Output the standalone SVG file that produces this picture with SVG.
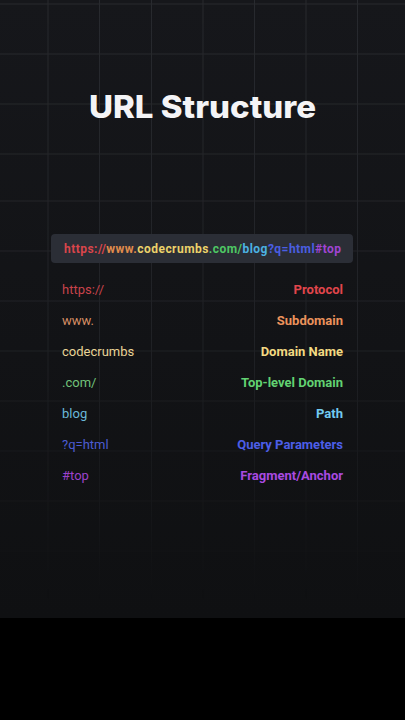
<svg xmlns="http://www.w3.org/2000/svg" width="405" height="720" viewBox="0 0 405 720">
  <defs>
    <linearGradient id="bgGrad" x1="0" y1="0" x2="0" y2="1">
      <stop offset="0" stop-color="#16171b"/>
      <stop offset="1" stop-color="#0f1012"/>
    </linearGradient>
    <linearGradient id="fade" x1="0" y1="0" x2="0" y2="1">
      <stop offset="0" stop-color="#fff" stop-opacity="1"/>
      <stop offset="0.55" stop-color="#fff" stop-opacity="0.65"/>
      <stop offset="1" stop-color="#fff" stop-opacity="0"/>
    </linearGradient>
    <mask id="gridMask" maskUnits="userSpaceOnUse" x="0" y="0" width="405" height="618">
      <rect x="0" y="0" width="405" height="600" fill="url(#fade)"/>
    </mask>
    <style>
      .grid { stroke: #282a2f; stroke-width: 1; }
      .title { font-family: Inter, "Open Sans", sans-serif; font-weight: 800; font-size: 31px; fill: #f4f4f6; }
      .url { font-family: Roboto, "Liberation Sans", sans-serif; font-weight: 700; font-size: 12px; }
      .seg { font-family: Roboto, "Liberation Sans", sans-serif; font-size: 13px; }
      .lbl { font-family: Roboto, "Liberation Sans", sans-serif; font-weight: 700; font-size: 13px; text-anchor: end; }
    </style>
  </defs>

  <rect x="0" y="0" width="405" height="618" fill="url(#bgGrad)"/>
  <rect x="0" y="618" width="405" height="102" fill="#000"/>

  <g id="grid" mask="url(#gridMask)">
    <line class="grid" x1="48" y1="0" x2="48" y2="600"/>
    <line class="grid" x1="99.5" y1="0" x2="99.5" y2="600"/>
    <line class="grid" x1="151.5" y1="0" x2="151.5" y2="600"/>
    <line class="grid" x1="203" y1="0" x2="203" y2="600"/>
    <line class="grid" x1="254.5" y1="0" x2="254.5" y2="600"/>
    <line class="grid" x1="306" y1="0" x2="306" y2="600"/>
    <line class="grid" x1="357.5" y1="0" x2="357.5" y2="600"/>
    <line class="grid" x1="0" y1="4" x2="405" y2="4"/>
    <line class="grid" x1="0" y1="54" x2="405" y2="54"/>
    <line class="grid" x1="0" y1="104" x2="405" y2="104"/>
    <line class="grid" x1="0" y1="154" x2="405" y2="154"/>
    <line class="grid" x1="0" y1="201" x2="405" y2="201"/>
    <line class="grid" x1="0" y1="251" x2="405" y2="251"/>
    <line class="grid" x1="0" y1="301" x2="405" y2="301"/>
    <line class="grid" x1="0" y1="351" x2="405" y2="351"/>
    <line class="grid" x1="0" y1="401" x2="405" y2="401"/>
    <line class="grid" x1="0" y1="451" x2="405" y2="451"/>
    <line class="grid" x1="0" y1="501" x2="405" y2="501"/>
    <line class="grid" x1="0" y1="551" x2="405" y2="551"/>
  </g>

  <g id="title">
    <text class="title" x="89" y="118" textLength="227" lengthAdjust="spacingAndGlyphs">URL Structure</text>
  </g>

  <g id="url-bar">
    <rect x="51" y="234" width="302" height="29" rx="4" fill="#2b2e36"/>
    <text class="url" x="64" y="253" textLength="277" lengthAdjust="spacing"><tspan fill="#d9454b">https://</tspan><tspan fill="#e08c4c">www.</tspan><tspan fill="#ecd26a">codecrumbs</tspan><tspan fill="#4ec864">.com/</tspan><tspan fill="#4cb2e2">blog</tspan><tspan fill="#4a5ee2">?q=html</tspan><tspan fill="#a044d2">#top</tspan></text>
  </g>

  <g id="row-protocol">
    <text class="seg" x="62" y="293.5" fill="#c9434b">https://</text>
    <text class="lbl" x="343" y="293.5" fill="#e2464c">Protocol</text>
  </g>
  <g id="row-subdomain">
    <text class="seg" x="62" y="324.5" fill="#d68e64">www.</text>
    <text class="lbl" x="343" y="324.5" fill="#eb925c">Subdomain</text>
  </g>
  <g id="row-domain">
    <text class="seg" x="62" y="355.5" fill="#e9d496">codecrumbs</text>
    <text class="lbl" x="343" y="355.5" fill="#f3da82">Domain Name</text>
  </g>
  <g id="row-tld">
    <text class="seg" x="62" y="386.5" fill="#72c27a">.com/</text>
    <text class="lbl" x="343" y="386.5" fill="#62d272">Top-level Domain</text>
  </g>
  <g id="row-path">
    <text class="seg" x="62" y="417.5" fill="#6ab8d8">blog</text>
    <text class="lbl" x="343" y="417.5" fill="#72caf0">Path</text>
  </g>
  <g id="row-query">
    <text class="seg" x="62" y="448.5" fill="#4c5cd2">?q=html</text>
    <text class="lbl" x="343" y="448.5" fill="#4c5ee8">Query Parameters</text>
  </g>
  <g id="row-fragment">
    <text class="seg" x="62" y="479.5" fill="#9c42ca">#top</text>
    <text class="lbl" x="343" y="479.5" fill="#aa4ae2">Fragment/Anchor</text>
  </g>
</svg>
